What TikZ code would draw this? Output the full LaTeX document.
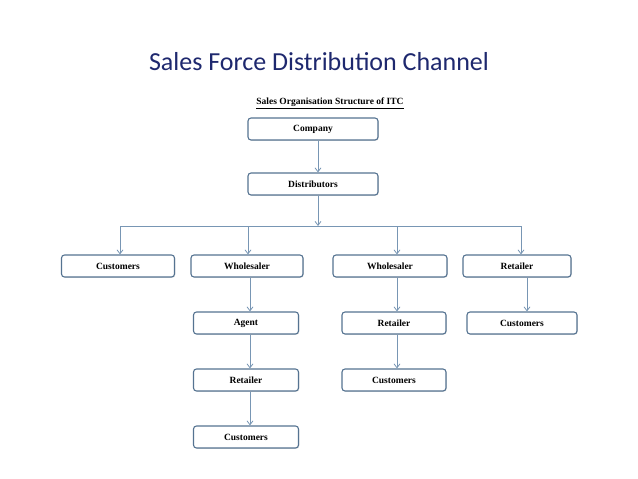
\documentclass[tikz,border=0pt]{standalone}
\usepackage{fontspec}
\setmainfont{Liberation Serif}
\newfontfamily\titlefont{Carlito}
\usetikzlibrary{arrows.meta,shadows}
\definecolor{bord}{RGB}{85,115,145}
\definecolor{arr}{RGB}{120,150,180}
\definecolor{ttl}{RGB}{30,40,110}
\tikzset{
 bx/.style={draw=bord,line width=1.1pt,rounded corners=3pt,fill=white,minimum height=22pt,font=\bfseries\fontsize{9.5}{11}\selectfont,inner sep=0pt,drop shadow={shadow xshift=0.8pt,shadow yshift=-0.8pt,opacity=0.25}},
 ar/.style={draw=arr,line width=0.8pt,-{Straight Barb[length=4pt,width=6pt]}},
 ln/.style={draw=arr,line width=0.8pt}
}
\begin{document}
\begin{tikzpicture}[x=1pt,y=-1pt]
\useasboundingbox (0,0) rectangle (638,479);
\node[font=\titlefont\fontsize{26}{30}\selectfont,text=ttl] (title) at (319,62) {Sales Force Distribution Channel};
\node[font=\bfseries\fontsize{9.5}{11}\selectfont] (sub) at (330,103) {\underline{Sales Organisation Structure of ITC}};
\node[bx,minimum width=130pt] (comp) at (313,129) {Company};
\node[bx,minimum width=130pt] (dist) at (313,184) {Distributors};
\node[bx,minimum width=113pt] (c1) at (118,266) {Customers};
\node[bx,minimum width=112pt] (w1) at (247,266) {Wholesaler};
\node[bx,minimum width=114pt] (w2) at (390,266) {Wholesaler};
\node[bx,minimum width=108pt] (r1) at (517,266) {Retailer};
\node[bx,minimum width=105pt] (ag) at (246,323) {Agent};
\node[bx,minimum width=104pt] (r2) at (394,323) {Retailer};
\node[bx,minimum width=110pt] (c2) at (522,323) {Customers};
\node[bx,minimum width=105pt] (r3) at (246,380) {Retailer};
\node[bx,minimum width=104pt] (c3) at (394,380) {Customers};
\node[bx,minimum width=105pt] (c4) at (246,437) {Customers};
\coordinate (bar) at (318,226);
\coordinate (bl) at (120,226);
\coordinate (br) at (521,226);
\draw[ar] (comp.south -| 318,0) -- (dist.north -| 318,0);
\draw[ar] (dist.south -| 318,0) -- (bar);
\draw[ln] (bl) -- (br);
\draw[ar] (bl) -- (c1.north -| bl);
\draw[ar] (248,226) -- (w1.north -| 248,0);
\draw[ar] (397,226) -- (w2.north -| 397,0);
\draw[ar] (br) -- (r1.north -| br);
\draw[ar] (w1.south -| 250,0) -- (ag.north -| 250,0);
\draw[ar] (ag.south -| 250,0) -- (r3.north -| 250,0);
\draw[ar] (r3.south -| 250,0) -- (c4.north -| 250,0);
\draw[ar] (w2.south -| 397,0) -- (r2.north -| 397,0);
\draw[ar] (r2.south -| 397,0) -- (c3.north -| 397,0);
\draw[ar] (r1.south -| 527,0) -- (c2.north -| 527,0);
\end{tikzpicture}
\end{document}
